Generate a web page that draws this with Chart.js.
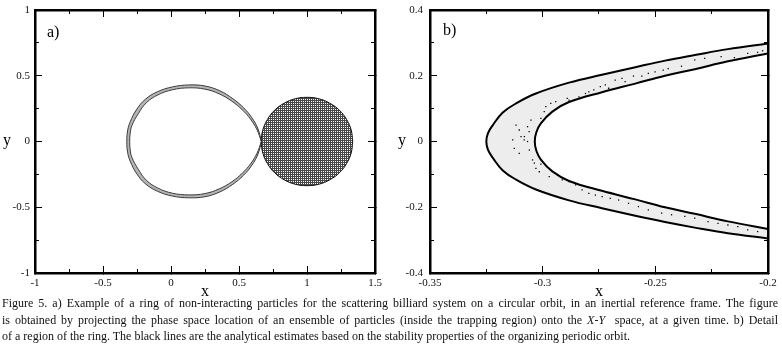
<!DOCTYPE html>
<html><head><meta charset="utf-8">
<script src="https://cdn.jsdelivr.net/npm/chart.js@4.4.1/dist/chart.umd.min.js"></script>
<style>
html,body{margin:0;padding:0;background:#fff;}
body{width:782px;height:358px;position:relative;overflow:hidden;font-family:'Liberation Serif','Times New Roman',serif;color:#000;}
canvas{position:absolute;top:0;}
#ca{left:0;}
#cb{left:390px;}
.lbl{position:absolute;font-size:16px;line-height:16px;white-space:nowrap;}
.cap{position:absolute;left:2px;width:776px;font-size:12px;line-height:16px;white-space:nowrap;color:#111;}
.j{text-align:justify;text-align-last:justify;}
</style></head><body>
<canvas id="ca" width="390" height="300"></canvas>
<canvas id="cb" width="392" height="300"></canvas>
<div class="lbl" style="left:47px;top:24px">a)</div>
<div class="lbl" style="left:443px;top:22px">b)</div>
<div class="lbl" style="left:3px;top:132px">y</div>
<div class="lbl" style="left:398px;top:132px">y</div>
<div class="cap j" style="top:295px">Figure 5. a) Example of a ring of non-interacting particles for the scattering billiard system on a circular orbit, in an inertial reference frame. The figure</div>
<div class="cap j" style="top:311.5px">is obtained by projecting the phase space location of an ensemble of particles (inside the trapping region) onto the <i>X-Y</i>&nbsp; space, at a given time. b) Detail</div>
<div class="cap" style="top:328px">of a region of the ring. The black lines are the analytical estimates based on the stability properties of the organizing periodic orbit.</div>
<script>
// ---------- Panel a data ----------
const xTicksA = [-1, -0.5, 0, 0.5, 1, 1.5];
const xLabelsA = ['-1', '-0.5', '0', '0.5', '1', '1.5'];
const xMinorA = [-0.75, -0.25, 0.25, 0.75, 1.25];
const yTicksA = [-1, -0.5, 0, 0.5, 1];
const yLabelsA = ['-1', '-0.5', '0', '0.5', '1'];
const yMinorA = [-0.75, -0.25, 0.25, 0.75];

// ring of particles: outer edge (closed loop starting at the cusp)
const ringOuterX = [0.665, 0.640, 0.595, 0.535, 0.455, 0.360, 0.250, 0.130, 0.010, -0.100, -0.190, -0.255, -0.300, -0.318, -0.325, -0.318, -0.300, -0.255, -0.190, -0.100, 0.010, 0.130, 0.250, 0.360, 0.455, 0.535, 0.595, 0.640, 0.665];
const ringOuterY = [0, 0.095, 0.180, 0.255, 0.325, 0.385, 0.422, 0.430, 0.415, 0.378, 0.320, 0.240, 0.150, 0.088, 0, -0.088, -0.150, -0.240, -0.320, -0.378, -0.415, -0.428, -0.420, -0.383, -0.325, -0.255, -0.180, -0.095, 0];
// ring of particles: inner edge
const ringInnerX = [0.665, 0.632, 0.585, 0.525, 0.448, 0.355, 0.250, 0.130, 0.010, -0.095, -0.180, -0.240, -0.288, -0.301, -0.3035, -0.301, -0.288, -0.240, -0.180, -0.095, 0.010, 0.130, 0.250, 0.355, 0.448, 0.525, 0.585, 0.632, 0.665];
const ringInnerY = [0, 0.090, 0.170, 0.240, 0.306, 0.362, 0.398, 0.408, 0.393, 0.355, 0.296, 0.212, 0.120, 0.055, 0, -0.055, -0.120, -0.212, -0.296, -0.355, -0.393, -0.406, -0.396, -0.360, -0.306, -0.240, -0.170, -0.090, 0];
// scatterer disk (boundary)
const diskX = [1.336, 1.325, 1.291, 1.238, 1.168, 1.087, 1.000, 0.913, 0.832, 0.762, 0.709, 0.675, 0.664, 0.675, 0.709, 0.762, 0.832, 0.913, 1.000, 1.087, 1.168, 1.238, 1.291, 1.325, 1.336];
const diskY = [0, 0.087, 0.168, 0.238, 0.291, 0.325, 0.336, 0.325, 0.291, 0.238, 0.168, 0.087, 0, -0.087, -0.168, -0.238, -0.291, -0.325, -0.336, -0.325, -0.291, -0.238, -0.168, -0.087, 0];

// ---------- Panel b data ----------
const xTicksB = [-0.35, -0.3, -0.25, -0.2];
const xLabelsB = ['-0.35', '-0.3', '-0.25', '-0.2'];
const xMinorB = [-0.325, -0.275, -0.225];
const yTicksB = [-0.4, -0.2, 0, 0.2, 0.4];
const yLabelsB = ['-0.4', '-0.2', '0', '0.2', '0.4'];
const yMinorB = [-0.3, -0.1, 0.1, 0.3];

const outerBX = [-0.2000, -0.2178, -0.2325, -0.2457, -0.2589, -0.2737, -0.2883, -0.3030, -0.3118, -0.3177, -0.3221, -0.3243, -0.3250, -0.3243, -0.3221, -0.3177, -0.3118, -0.3030, -0.2883, -0.2737, -0.2589, -0.2457, -0.2325, -0.2178, -0.2000];
const outerBY = [0.298, 0.281, 0.263, 0.246, 0.226, 0.203, 0.179, 0.146, 0.116, 0.088, 0.050, 0.025, 0, -0.025, -0.050, -0.088, -0.116, -0.146, -0.179, -0.203, -0.226, -0.245, -0.262, -0.279, -0.295];
const innerBX = [-0.2000, -0.2178, -0.2325, -0.2457, -0.2589, -0.2737, -0.2883, -0.2957, -0.3008, -0.3028, -0.3035, -0.3028, -0.3008, -0.2957, -0.2883, -0.2737, -0.2589, -0.2457, -0.2325, -0.2178, -0.2000];
const innerBY = [0.268, 0.244, 0.220, 0.200, 0.176, 0.150, 0.120, 0.091, 0.055, 0.028, 0, -0.028, -0.055, -0.091, -0.120, -0.150, -0.176, -0.200, -0.220, -0.243, -0.266];
const dotsX = [-0.3118, -0.3104, -0.3096, -0.3082, -0.3060, -0.3067, -0.3052, -0.3008, -0.2993, -0.2986, -0.2964, -0.2942, -0.2891, -0.2883, -0.2839, -0.2810, -0.2795, -0.2773, -0.2744, -0.2722, -0.2707, -0.2678, -0.2648, -0.2634, -0.2597, -0.2560, -0.2531, -0.2501, -0.2465, -0.2443, -0.2384, -0.2325, -0.2281, -0.2208, -0.2149, -0.2090, -0.2046, -0.2024,
  -0.3133, -0.3126, -0.3104, -0.3081, -0.3067, -0.3059, -0.3045, -0.3037, -0.3030, -0.3008, -0.3015, -0.2971, -0.2913, -0.2883, -0.2854, -0.2825, -0.2795, -0.2766, -0.2736, -0.2700, -0.2663, -0.2619, -0.2575, -0.2531, -0.2472, -0.2428, -0.2369, -0.2325, -0.2266, -0.2222, -0.2178, -0.2134, -0.2090, -0.2046];
const dotsY = [0.050, 0.035, 0.015, 0.005, 0.030, 0.045, 0.065, 0.070, 0.091, 0.106, 0.116, 0.121, 0.131, 0.126, 0.136, 0.146, 0.151, 0.157, 0.167, 0.172, 0.162, 0.187, 0.192, 0.182, 0.199, 0.199, 0.207, 0.212, 0.217, 0.222, 0.229, 0.248, 0.253, 0.258, 0.255, 0.268, 0.271, 0.276,
  0.005, -0.021, -0.036, 0.015, 0.000, -0.026, -0.056, -0.066, -0.082, -0.069, -0.092, -0.107, -0.117, -0.122, -0.132, -0.147, -0.158, -0.163, -0.168, -0.173, -0.178, -0.188, -0.198, -0.208, -0.218, -0.223, -0.228, -0.233, -0.244, -0.249, -0.254, -0.259, -0.269, -0.274];

// ---------- helpers ----------
const pts = (xs, ys) => xs.map((x, i) => ({x: x, y: ys[i]}));
const band = (ox, oy, ix, iy) => pts(ox, oy).concat(pts(ix, iy).reverse());
const SERIF = "'Liberation Serif','Times New Roman',serif";

function scalesFor(c) {
  const setTicks = arr => s => { s.ticks = arr.map(v => ({value: v})); };
  const zeroPad = s => { s.paddingLeft = 0; s.paddingRight = 0; s.paddingTop = 0; s.paddingBottom = 0; };
  const ax = (axis, pos, min, max, ticks, len, major, extra) => Object.assign({
    type: 'linear', axis: axis, position: pos, min: min, max: max,
    weight: major ? 1 : 0,
    afterBuildTicks: setTicks(ticks),
    ticks: {display: false, autoSkip: false},
    grid: {display: true, drawOnChartArea: false, drawTicks: true, tickLength: -len, tickColor: '#000', tickWidth: 1, z: 1},
    border: major ? {display: true, width: 2.5, color: '#000', z: 1} : {display: false},
    afterFit: s => { if (s.isHorizontal()) s.height = 0; else s.width = 0; zeroPad(s); }
  }, extra || {});
  return {
    x: ax('x', 'bottom', c.xMin, c.xMax, c.xT, 7, true, {
      ticks: {display: true, autoSkip: false, maxRotation: 0, padding: 11, color: '#111', font: {family: SERIF, size: 11},
        callback: (v, i) => c.xL[i]},
      title: {display: true, text: 'x', color: '#000', font: {family: SERIF, size: 16, lineHeight: 1}, padding: {top: 0, bottom: 0}},
      afterFit: s => { s.height = 27; zeroPad(s); }
    }),
    xm: ax('x', 'bottom', c.xMin, c.xMax, c.xM, 4, false),
    xt: ax('x', 'top', c.xMin, c.xMax, c.xT, 7, true),
    xtm: ax('x', 'top', c.xMin, c.xMax, c.xM, 4, false),
    y: ax('y', 'left', c.yMin, c.yMax, c.yT, 7, true, {
      ticks: {display: true, autoSkip: false, padding: c.yPad, color: '#111', font: {family: SERIF, size: 11},
        callback: (v, i) => c.yL[i]},
      afterFit: s => { s.width = c.yW; zeroPad(s); }
    }),
    ym: ax('y', 'left', c.yMin, c.yMax, c.yM, 4, false),
    yr: ax('y', 'right', c.yMin, c.yMax, c.yT, 7, true),
    yrm: ax('y', 'right', c.yMin, c.yMax, c.yM, 4, false)
  };
}

function baseOptions(scales, padRight) {
  return {
    responsive: false, animation: false, events: [],
    layout: {padding: {left: 0, right: padRight, top: 10, bottom: 0}},
    plugins: {legend: {display: false}, tooltip: {enabled: false}},
    scales: scales
  };
}

// cross-hatch pattern for the disk
const ctxA = document.getElementById('ca').getContext('2d');
const pc = document.createElement('canvas'); pc.width = 2; pc.height = 2;
const pg = pc.getContext('2d');
pg.fillStyle = '#ffffff'; pg.fillRect(0, 0, 2, 2);
pg.fillStyle = '#474747'; pg.fillRect(0, 0, 2, 1); pg.fillRect(0, 0, 1, 2);
const hatch = ctxA.createPattern(pc, 'repeat');

const lineDs = (data, color, width, extra) => Object.assign({
  data: data, showLine: true, fill: false, borderColor: color, borderWidth: width,
  pointRadius: 0, tension: 0.4, xAxisID: 'x', yAxisID: 'y'
}, extra || {});

new Chart(ctxA, {
  type: 'scatter',
  data: {datasets: [
    lineDs(pts(diskX, diskY), '#111', 1, {fill: 'shape', backgroundColor: hatch}),
    lineDs(pts(ringOuterX, ringOuterY), '#3a3a3a', 1),
    lineDs(pts(ringInnerX, ringInnerY), '#3a3a3a', 1),
    lineDs(band(ringOuterX, ringOuterY, ringInnerX, ringInnerY), 'rgba(0,0,0,0)', 0, {fill: 'shape', backgroundColor: '#b4b4b4'})
  ]},
  options: baseOptions(scalesFor({xMin: -1, xMax: 1.5, yMin: -1, yMax: 1, xT: xTicksA, xL: xLabelsA, xM: xMinorA,
    yT: yTicksA, yL: yLabelsA, yM: yMinorA, yW: 35, yPad: 12}), 15)
});

new Chart(document.getElementById('cb').getContext('2d'), {
  type: 'scatter',
  data: {datasets: [
    {data: pts(dotsX, dotsY), showLine: false, pointRadius: 0.9, pointStyle: 'rect', backgroundColor: '#000', borderWidth: 0, xAxisID: 'x', yAxisID: 'y'},
    lineDs(pts(outerBX, outerBY), '#000', 2),
    lineDs(pts(innerBX, innerBY), '#000', 2),
    lineDs(band(outerBX, outerBY, innerBX, innerBY), 'rgba(0,0,0,0)', 0, {fill: 'shape', backgroundColor: '#ededed'})
  ]},
  options: baseOptions(scalesFor({xMin: -0.35, xMax: -0.2, yMin: -0.4, yMax: 0.4, xT: xTicksB, xL: xLabelsB, xM: xMinorB,
    yT: yTicksB, yL: yLabelsB, yM: yMinorB, yW: 40, yPad: 14}), 14)
});
</script>
</body></html>
